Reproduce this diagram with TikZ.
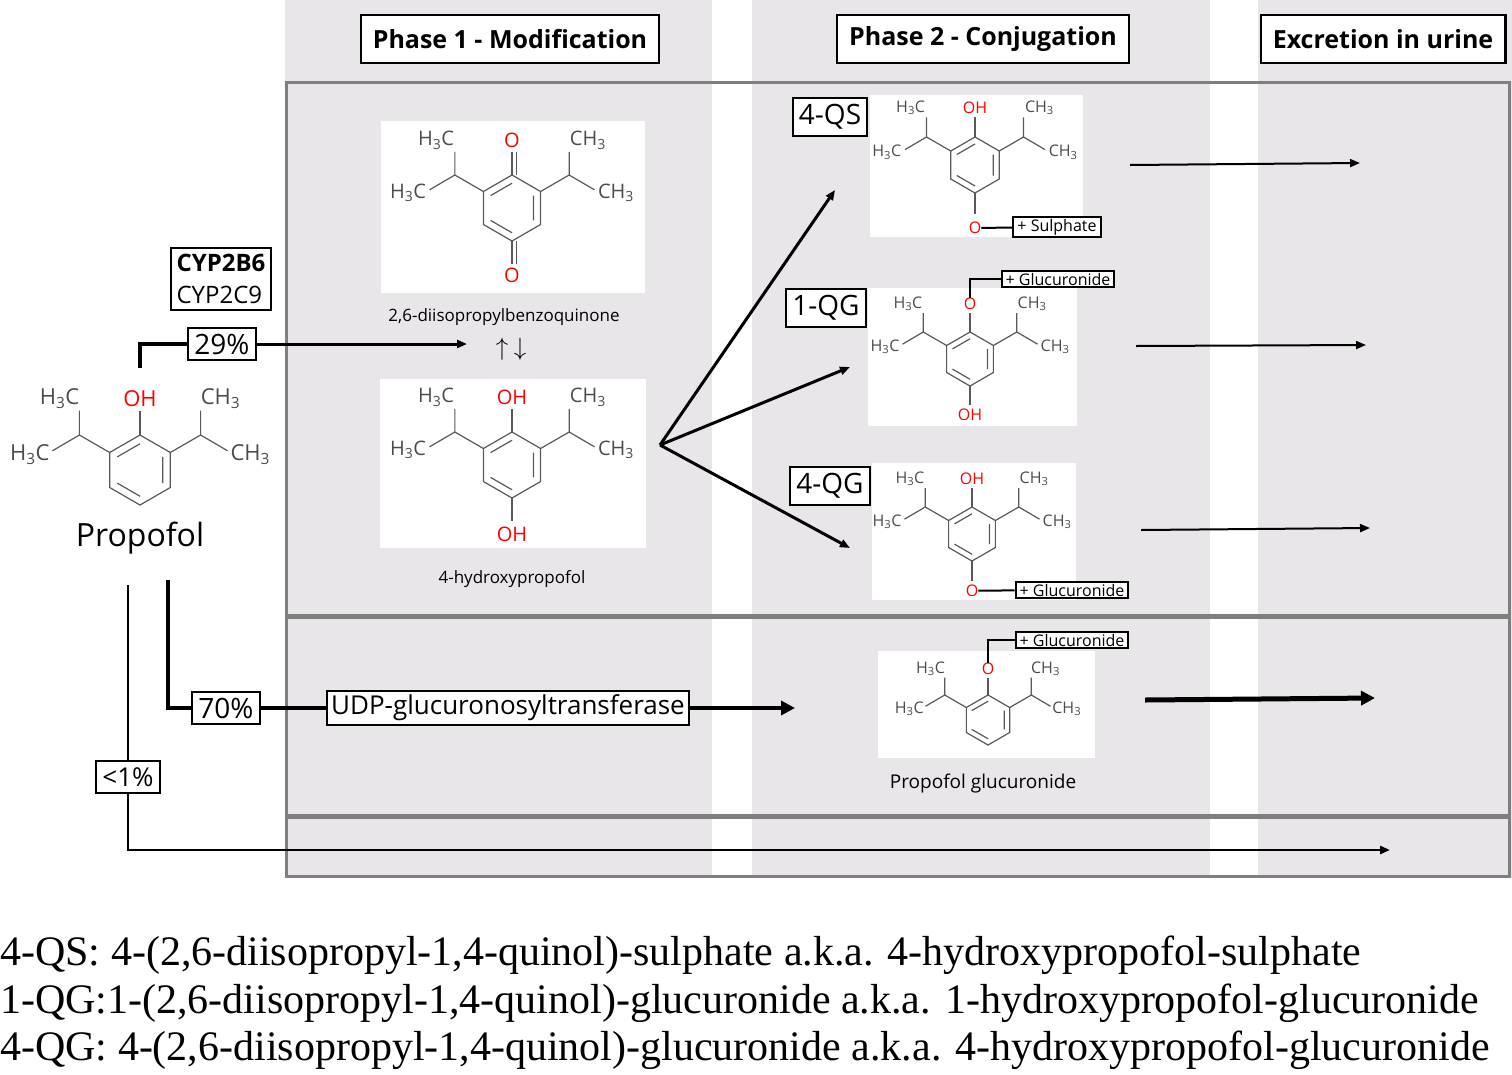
\documentclass[tikz,border=0pt]{standalone}
\usepackage{fontspec}
\setmainfont{Open Sans}
\newfontfamily\legendfont{Liberation Serif}
\usetikzlibrary{arrows.meta}
\definecolor{colbg}{HTML}{E8E6E8}
\definecolor{boxline}{HTML}{7F7F7F}
\tikzset{
  fs/.style={font=\fontsize{#1pt}{#1pt}\selectfont},
  bond/.style={draw=black!65,line width=1.2pt},
  header/.style={draw,line width=2.5pt,fill=white,font=\bfseries\fontsize{25pt}{25pt}\selectfont,minimum height=48pt,inner xsep=12pt},
  tag/.style={draw,line width=2pt,fill=white,fs=28,inner sep=6pt},
  small/.style={draw,line width=2pt,fill=white,fs=16,inner xsep=4pt,inner ysep=2pt},
  flow/.style={line width=3.5pt,-{Triangle[length=14pt,width=14pt]}},
  thin/.style={line width=2pt,-{Triangle[length=10pt,width=8pt]}},
  panel/.style={fill=white},
}
% name, x, y, bond length, top atom, extra, atom font size
\newcommand\ring[7]{%
 \begin{scope}[shift={(#2,#3)},x=#4pt,y=#4pt,every node/.style={fs=#7,inner sep=0pt}]
  \coordinate (#1) at (0,0);
  \draw[bond] (90:1)--(30:1)--(-30:1)--(-90:1)--(-150:1)--(150:1)--cycle;
  \draw[bond] (30:.75)--(-30:.75) (-90:.75)--(-150:.75) (150:.75)--(90:.75);
  \draw[bond] (0,1)--(0,1.7);
  \draw[bond] (150:1)--(-1.732,1)--(-1.732,1.7) (-1.732,1)--(-2.5,.55);
  \draw[bond] (30:1)--(1.732,1)--(1.732,1.7) (1.732,1)--(2.5,.55);
  \node[red] (#1-t) at (0,2.05) {#5};
  \node[black!70] (#1-tl) at (-2.3,2.05) {H\textsubscript{3}C};
  \node[black!70] (#1-l) at (-3.15,.45) {H\textsubscript{3}C};
  \node[black!70] (#1-tr) at (2.3,2.05) {CH\textsubscript{3}};
  \node[black!70] (#1-r) at (3.15,.45) {CH\textsubscript{3}};
  #6
 \end{scope}}

\begin{document}
\begin{tikzpicture}[x=1pt,y=-1pt]
\useasboundingbox (0,0) rectangle (1512,1074);
% columns
\fill[colbg] (285,0) rectangle (712,878);
\fill[colbg] (752,0) rectangle (1210,878);
\fill[colbg] (1258,0) rectangle (1512,878);
\draw[boxline,line width=3pt] (286,82) rectangle (1509,615);
\draw[boxline,line width=3pt] (286,617) rectangle (1509,815);
\draw[boxline,line width=3pt] (286,817) rectangle (1509,876);
\node[header] (ph1) at (510,39) {Phase 1 - Modification};
\node[header] (ph2) at (983,39) {Phase 2 - Conjugation};
\node[header] (exc) at (1383,39) {Excretion in urine};

% white panels
\fill[panel] (381,121) rectangle (645,293);
\fill[panel] (380,379) rectangle (646,548);
\fill[panel] (870,95) rectangle (1083,237);
\fill[panel] (868,288) rectangle (1077,426);
\fill[panel] (872,463) rectangle (1076,600);
\fill[panel] (878,651) rectangle (1095,758);

% molecules
\ring{prop}{140}{470}{35}{OH}{}{22}
\node[fs=32] (propname) at (140,538) {Propofol};
\ring{quin}{512}{208}{33}{O}{%
  \draw[bond] (.14,1)--(.14,1.7);
  \draw[bond] (0,-1)--(0,-1.7) (.14,-1)--(.14,-1.7);
  \node[red] (quin-b) at (0,-2.05) {O};}{20}
\node[fs=17] (quinname) at (504,317) {2,6-diisopropylbenzoquinone};
\ring{hyd}{512}{465}{33}{OH}{%
  \draw[bond] (0,-1)--(0,-1.7);
  \node[red] (hyd-b) at (0,-2.1) {OH};}{20}
\node[fs=17] (hydname) at (512,579) {4-hydroxypropofol};
\node[fs=30] (up) at (502,349) {$\uparrow$};
\node[fs=30] (down) at (520,349) {$\downarrow$};

\ring{qs}{975}{165}{28}{OH}{%
  \draw[bond] (0,-1)--(0,-1.75);
  \node[red] (qs-b) at (0,-2.25) {O};}{16}
\node[small] (qs-add) at (1057,227) {+ Sulphate};
\draw[line width=2pt] (qs-b) -- (qs-add);
\ring{qga}{970}{359}{27}{O}{%
  \draw[bond] (0,-1)--(0,-1.7);
  \node[red] (qga-b) at (0,-2.05) {OH};}{16}
\node[small] (qga-add) at (1058,279) {+ Glucuronide};
\draw[line width=2pt] (qga-t) |- (qga-add);
\ring{qgb}{972}{534}{27}{OH}{%
  \draw[bond] (0,-1)--(0,-1.75);
  \node[red] (qgb-b) at (0,-2.1) {O};}{16}
\node[small] (qgb-add) at (1072,590) {+ Glucuronide};
\draw[line width=2pt] (qgb-b) -- (qgb-add);
\ring{pg}{988}{720}{25}{O}{}{16}
\node[small] (pg-add) at (1072,640) {+ Glucuronide};
\draw[line width=2pt] (pg-t) |- (pg-add);
\node[fs=19] (pgname) at (983,784) {Propofol glucuronide};

% labels
\node[tag] (lqs) at (830,117) {4-QS};
\node[tag] (lqga) at (826,308) {1-QG};
\node[tag] (lqgb) at (830,486) {4-QG};

% enzymes and shares
\node[draw,line width=2pt,fill=white,fs=24,align=left,inner sep=6pt] (cyp) at (221,279)
  {\textbf{CYP2B6}\\[8pt]CYP2C9};
\node[tag] (p29) at (222,344) {29\%};
\node[tag] (p70) at (226,708) {70\%};
\node[tag,fs=26,inner sep=4pt] (udp) at (508,708) {UDP-glucuronosyltransferase};
\node[tag,fs=26] (p1) at (128,777) {<1\%};

\coordinate (src29) at (140,368);
\coordinate (src70) at (168,580);
\coordinate (src1) at (128,585);
\coordinate (fork) at (660,445);
\coordinate (toquin) at (467,344);
\coordinate (toqs) at (835,190);
\coordinate (toqga) at (850,367);
\coordinate (toqgb) at (850,548);
\coordinate (topg) at (795,708);

\draw[line width=3.5pt] (src29) |- (p29);
\draw[thin,line width=3pt] (p29) -- (toquin);
\draw[line width=4.5pt] (src70) |- (p70);
\draw[line width=4.5pt] (p70) -- (udp);
\draw[flow,line width=4.5pt] (udp) -- (topg);
\draw[thin,line width=2.5pt] (src1) -- (p1) |- (1390,850);
\draw[thin,line width=3pt] (fork) -- (toqs);
\draw[thin,line width=3pt] (fork) -- (toqga);
\draw[thin,line width=3pt] (fork) -- (toqgb);

% excretion
\draw[thin] (1130,165) -- (1360,163);
\draw[thin] (1136,346) -- (1366,345);
\draw[thin] (1141,530) -- (1370,528);
\draw[flow,line width=5pt] (1145,700) -- (1375,698);

% legend
\begin{scope}[every node/.style={anchor=west,inner sep=0pt,font=\legendfont\fontsize{42pt}{42pt}\selectfont}]
\node (leg1) at (0,955) {4-QS: 4-(2,6-diisopropyl-1,4-quinol)-sulphate a.k.a. 4-hydroxypropofol-sulphate};
\node (leg2) at (0,1003) {1-QG:1-(2,6-diisopropyl-1,4-quinol)-glucuronide a.k.a. 1-hydroxypropofol-glucuronide};
\node (leg3) at (0,1050) {4-QG: 4-(2,6-diisopropyl-1,4-quinol)-glucuronide a.k.a. 4-hydroxypropofol-glucuronide};
\end{scope}
\end{tikzpicture}
\end{document}
